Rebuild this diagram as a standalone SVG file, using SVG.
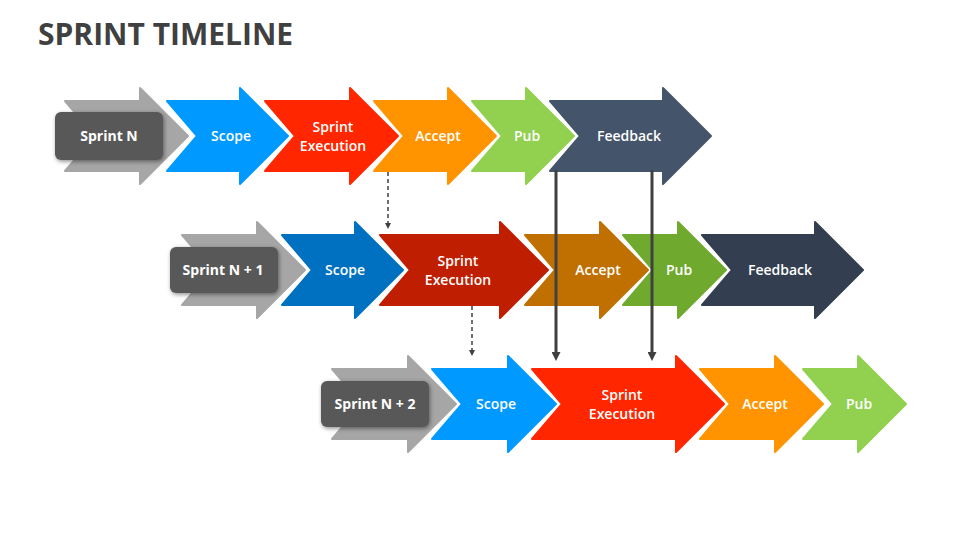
<svg xmlns="http://www.w3.org/2000/svg" width="960" height="540" viewBox="0 0 960 540">
<style>
.t{font-family:"Open Sans","Liberation Sans",sans-serif;fill:#fff;font-size:14px;font-weight:600;text-anchor:middle}
.b{font-weight:700}
.ttl{font-family:"Open Sans","Liberation Sans",sans-serif;font-size:30px;font-weight:700;fill:#404040}
.ar{stroke-width:2;stroke-linejoin:round}
.gray{fill:#A6A6A6;stroke:#A6A6A6}
.blue{fill:#0099FF;stroke:#0099FF}
.red{fill:#FF2600;stroke:#FF2600}
.org{fill:#FF9400;stroke:#FF9400}
.grn{fill:#92D050;stroke:#92D050}
.fb{fill:#44546A;stroke:#44546A}
.blue2{fill:#0070C0;stroke:#0070C0}
.red2{fill:#C01E00;stroke:#C01E00}
.org2{fill:#C07000;stroke:#C07000}
.grn2{fill:#6FAA2E;stroke:#6FAA2E}
.fb2{fill:#333F50;stroke:#333F50}
.box{fill:#595959}
.sol{stroke:#404040;stroke-width:3;fill:none}
.dsh{stroke:#404040;stroke-width:1.5;stroke-dasharray:4 3;fill:none}
</style>
<defs>
<filter id="sh" x="-20%" y="-30%" width="140%" height="160%">
<feDropShadow dx="1" dy="1.5" stdDeviation="2" flood-color="#000" flood-opacity="0.45"/>
</filter>
<marker id="mh" viewBox="0 0 10 10" refX="3.3" refY="5" markerWidth="9" markerHeight="9" markerUnits="userSpaceOnUse" orient="auto">
<path d="M0,0 L10,5 L0,10 Z" fill="#404040"/>
</marker>
<marker id="ms" viewBox="0 0 10 10" refX="3.3" refY="5" markerWidth="6" markerHeight="6" markerUnits="userSpaceOnUse" orient="auto">
<path d="M0,0 L10,5 L0,10 Z" fill="#404040"/>
</marker>
</defs>
<rect width="960" height="540" fill="#fff"/>
<text class="ttl" x="38" y="45">SPRINT TIMELINE</text>

<g id="row1">
<g id="r1-sprint">
<path class="ar gray" d="M65,101 H140 V88 L188,136 L140,184 V171 H65 L95,136 Z"/>
<rect class="box" x="55" y="112" width="108" height="48" rx="6" filter="url(#sh)"/>
<text class="t b" x="109" y="141">Sprint N</text>
</g>
<g id="r1-scope">
<path class="ar blue" d="M167,101 H240 V88 L288,136 L240,184 V171 H167 L197,136 Z"/>
<text class="t" x="231" y="141">Scope</text>
</g>
<g id="r1-exec">
<path class="ar red" d="M265,101 H350 V88 L398,136 L350,184 V171 H265 L295,136 Z"/>
<text class="t" x="333" y="132">Sprint</text>
<text class="t" x="333" y="151">Execution</text>
</g>
<g id="r1-accept">
<path class="ar org" d="M374,101 H448 V88 L496,136 L448,184 V171 H374 L404,136 Z"/>
<text class="t" x="438" y="141">Accept</text>
</g>
<g id="r1-pub">
<path class="ar grn" d="M472,101 H526 V88 L574,136 L526,184 V171 H472 L502,136 Z"/>
<text class="t" x="527" y="141">Pub</text>
</g>
<g id="r1-feedback">
<path class="ar fb" d="M550,101 H663 V88 L711,136 L663,184 V171 H550 L580,136 Z"/>
<text class="t" x="629" y="141">Feedback</text>
</g>
</g>

<g id="row2">
<g id="r2-sprint">
<path class="ar gray" d="M182,235 H257 V222 L305,270 L257,318 V305 H182 L212,270 Z"/>
<rect class="box" x="170" y="247" width="108" height="46" rx="6" filter="url(#sh)"/>
<text class="t b" x="223" y="275">Sprint N + 1</text>
</g>
<g id="r2-scope">
<path class="ar blue2" d="M282,235 H355 V222 L403,270 L355,318 V305 H282 L312,270 Z"/>
<text class="t" x="345" y="275">Scope</text>
</g>
<g id="r2-exec">
<path class="ar red2" d="M380,235 H500 V222 L548,270 L500,318 V305 H380 L410,270 Z"/>
<text class="t" x="458" y="266">Sprint</text>
<text class="t" x="458" y="285">Execution</text>
</g>
<g id="r2-accept">
<path class="ar org2" d="M525,235 H600 V222 L648,270 L600,318 V305 H525 L555,270 Z"/>
<text class="t" x="598" y="275">Accept</text>
</g>
<g id="r2-pub">
<path class="ar grn2" d="M623,235 H678 V222 L726,270 L678,318 V305 H623 L653,270 Z"/>
<text class="t" x="679" y="275">Pub</text>
</g>
<g id="r2-feedback">
<path class="ar fb2" d="M702,235 H815 V222 L863,270 L815,318 V305 H702 L732,270 Z"/>
<text class="t" x="780" y="275">Feedback</text>
</g>
</g>

<g id="row3">
<g id="r3-sprint">
<path class="ar gray" d="M332,369 H408 V356 L456,404 L408,452 V439 H332 L362,404 Z"/>
<rect class="box" x="321" y="381" width="108" height="46" rx="6" filter="url(#sh)"/>
<text class="t b" x="375" y="409">Sprint N + 2</text>
</g>
<g id="r3-scope">
<path class="ar blue" d="M432,369 H508 V356 L556,404 L508,452 V439 H432 L462,404 Z"/>
<text class="t" x="496" y="409">Scope</text>
</g>
<g id="r3-exec">
<path class="ar red" d="M532,369 H676 V356 L724,404 L676,452 V439 H532 L562,404 Z"/>
<text class="t" x="622" y="400">Sprint</text>
<text class="t" x="622" y="419">Execution</text>
</g>
<g id="r3-accept">
<path class="ar org" d="M700,369 H775 V356 L823,404 L775,452 V439 H700 L730,404 Z"/>
<text class="t" x="765" y="409">Accept</text>
</g>
<g id="r3-pub">
<path class="ar grn" d="M803,369 H858 V356 L906,404 L858,452 V439 H803 L833,404 Z"/>
<text class="t" x="859" y="409">Pub</text>
</g>
</g>

<g id="connectors">
<line class="dsh" x1="388" y1="172" x2="388" y2="225" marker-end="url(#ms)"/>
<line class="dsh" x1="472" y1="306" x2="472" y2="352" marker-end="url(#ms)"/>
<line class="sol" x1="556" y1="170" x2="556" y2="355" marker-end="url(#mh)"/>
<line class="sol" x1="652" y1="170" x2="652" y2="355" marker-end="url(#mh)"/>
</g>
</svg>
